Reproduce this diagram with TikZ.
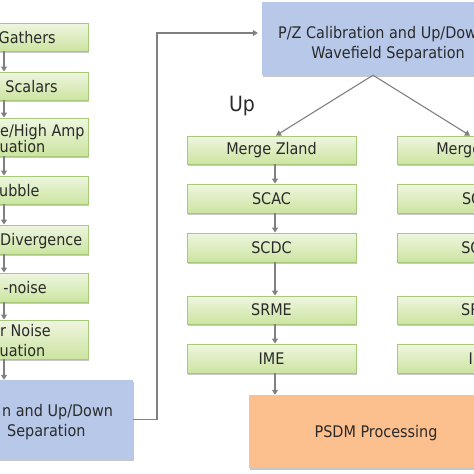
\documentclass[tikz,border=0pt]{standalone}
\usepackage{fontspec}
\setmainfont{DejaVu Sans}[FakeStretch=0.9]
\usetikzlibrary{arrows.meta,shadows}
\definecolor{gtop}{HTML}{EEF6E0}
\definecolor{gbot}{HTML}{CCE4A0}
\definecolor{gedge}{HTML}{A8C87A}
\definecolor{bfill}{HTML}{B8C8E8}
\definecolor{ofill}{HTML}{FCC08E}
\definecolor{arr}{HTML}{808080}
\definecolor{txt}{HTML}{2A2A2A}
\begin{document}
\begin{tikzpicture}[x=1pt,y=-1pt,
 shd/.style={drop shadow={shadow xshift=1pt,shadow yshift=-1.5pt,opacity=0.22,fill=black}},
 gbox/.style={draw=gedge,line width=0.9pt,top color=gtop,bottom color=gbot,shd,inner sep=0,minimum width=169pt},
 lbox/.style={gbox,minimum width=188pt},
 bbox/.style={fill=bfill,shd,inner sep=0},
 obox/.style={fill=ofill,shd,inner sep=0},
 lbl/.style={font=\fontsize{16}{20}\selectfont,text=txt,inner sep=0},
 flow/.style={draw=arr,line width=1.2pt,-{Triangle[width=6pt,length=5pt]}}]
\useasboundingbox (0,0) rectangle (474,474);
\clip (0,0) rectangle (474,474);
% left column
\node[lbox,minimum height=28pt] (L1) at (-6,37) {};
\node[lbox,minimum height=28pt] (L2) at (-6,86) {};
\node[lbox,minimum height=38pt] (L3) at (-6,137) {};
\node[lbox,minimum height=28pt] (L4) at (-6,190) {};
\node[lbox,minimum height=29pt] (L5) at (-6,239.5) {};
\node[lbox,minimum height=29pt] (L6) at (-6,287.5) {};
\node[lbox,minimum height=39pt] (L7) at (-6,339.5) {};
\node[bbox,minimum width=263pt,minimum height=79pt] (B) at (1.5,419.5) {};
\node[lbl,anchor=base west] (t1) at (-1.5,43) {Gathers};
\node[lbl,anchor=base] (t2) at (31.5,92) {Scalars};
\node[lbl,anchor=base west] (t3a) at (0,136) {e/High Amp};
\node[lbl,anchor=base west] (t3b) at (-0.5,152) {uation};
\node[lbl,anchor=base west] (t4) at (-1,196) {ubble};
\node[lbl,anchor=base west] (t5) at (0,245.5) {Divergence};
\node[lbl,anchor=base east] (t6) at (47,293.5) {-noise};
\node[lbl,anchor=base west] (t7a) at (0,336) {r Noise};
\node[lbl,anchor=base west] (t7b) at (-0.5,356) {uation};
\node[lbl,anchor=base west] (tba) at (2,416) {n and Up/Down};
\node[lbl,anchor=base west] (tbb) at (7,436) {Separation};
% top box
\node[bbox,minimum width=248pt,minimum height=73pt] (T) at (386,38.5) {};
\node[lbl,anchor=base west] (tt1) at (278,38) {P/Z Calibration and Up/Down};
\node[lbl,anchor=base] (tt2) at (388,58) {Wavefield Separation};
\node[font=\fontsize{21}{24}\selectfont,text=txt,inner sep=0] (up) at (242,106) {Up};
% middle column
\node[gbox,minimum height=28pt] (M1) at (271.5,150) {};
\node[gbox,minimum height=29pt] (M2) at (271.5,198.5) {};
\node[gbox,minimum height=29pt] (M3) at (271.5,247.5) {};
\node[gbox,minimum height=28pt] (M4) at (271.5,310) {};
\node[gbox,minimum height=29pt] (M5) at (271.5,358.5) {};
\node[lbl] at (M1) {Merge Zland};
\node[lbl] at (M2) {SCAC};
\node[lbl] at (M3) {SCDC};
\node[lbl] at (M4) {SRME};
\node[lbl] at (M5) {IME};
% right column
\node[gbox,minimum height=28pt] (R1) at (481.5,150) {};
\node[gbox,minimum height=29pt] (R2) at (481.5,198.5) {};
\node[gbox,minimum height=29pt] (R3) at (481.5,247.5) {};
\node[gbox,minimum height=28pt] (R4) at (481.5,310) {};
\node[gbox,minimum height=29pt] (R5) at (481.5,358.5) {};
\node[lbl] at (R1) {Merge Zland};
\node[lbl] at (R2) {SCAC};
\node[lbl] at (R3) {SCDC};
\node[lbl] at (R4) {SRME};
\node[lbl] at (R5) {IME};
% PSDM
\node[obox,minimum width=254pt,minimum height=73pt] (P) at (376,431.5) {};
\node[lbl] (tp) at (376,433) {PSDM Processing};
% connectors
\coordinate (ax) at (4,0);
\coordinate (mx) at (275,0);
\coordinate (lx) at (157,0);
\coordinate (apx) at (373,0);
\coordinate (tl) at (276,0);
\coordinate (tr) at (470,0);
\draw[flow] (L1.south -| ax) -- (L2.north -| ax);
\draw[flow] (L2.south -| ax) -- (L3.north -| ax);
\draw[flow] (L3.south -| ax) -- (L4.north -| ax);
\draw[flow] (L4.south -| ax) -- (L5.north -| ax);
\draw[flow] (L5.south -| ax) -- (L6.north -| ax);
\draw[flow] (L6.south -| ax) -- (L7.north -| ax);
\draw[flow] (L7.south -| ax) -- (B.north -| ax);
\draw[flow,line width=1.1pt,shorten >=4pt] (B.east) -- (B.east -| lx) |- ([yshift=5.5pt]T.west);
\draw[flow,line width=1.1pt] (T.south -| apx) -- (M1.north -| tl);
\draw[flow,line width=1.1pt] (T.south -| apx) -- (R1.north -| tr);
\draw[flow] (M1.south -| mx) -- (M2.north -| mx);
\draw[flow] (M2.south -| mx) -- (M3.north -| mx);
\draw[flow] (M3.south -| mx) -- (M4.north -| mx);
\draw[flow] (M4.south -| mx) -- (M5.north -| mx);
\draw[flow] (M5.south -| mx) -- (P.north -| mx);
\end{tikzpicture}
\end{document}
